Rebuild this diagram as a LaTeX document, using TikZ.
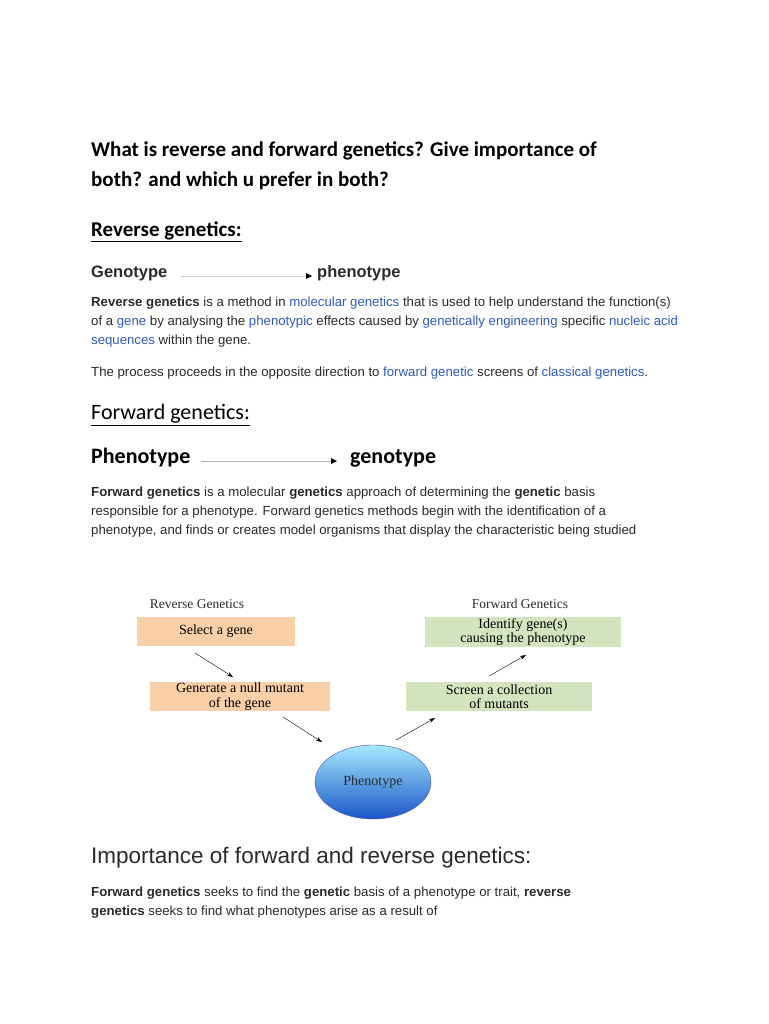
\documentclass[tikz,border=0pt]{standalone}
\usepackage{fontspec}
\setmainfont{Liberation Sans}
\newfontfamily\carl{Carlito}
\newfontfamily\serf{Liberation Serif}
\usetikzlibrary{arrows.meta,shadings,shapes.geometric}
\definecolor{lnk}{HTML}{2F5BB7}
\definecolor{txt}{HTML}{2A2A2A}
\definecolor{peach}{HTML}{F8CFA7}
\definecolor{sage}{HTML}{D3E4BF}
\newcommand{\lk}[1]{\textcolor{lnk}{#1}}
\begin{document}
\begin{tikzpicture}[x=1pt,y=-1pt,
  tx/.style={anchor=west,inner sep=0pt,text=txt},
  para/.style={tx,font=\fontsize{13.2}{19}\selectfont,align=left},
  pbox/.style={draw=none,inner sep=0pt,font=\serf\fontsize{14}{14.5}\selectfont,align=center},
  arr/.style={-{Stealth[length=6pt,width=4pt]},thin}]
\useasboundingbox (0,0) rectangle (768,1024);
\fill[white] (0,0) rectangle (768,1024);
\node[tx,text=black,font=\carl\bfseries\fontsize{21}{30}\selectfont,align=left,anchor=north west] (title) at (91,142) {What is reverse and forward genetics? Give importance of\\both? and which u prefer in both?};
\node[tx,text=black,font=\carl\bfseries\fontsize{21}{24}\selectfont] (rg) at (91,232) {\underline{Reverse genetics:}};
\node[tx,font=\bfseries\fontsize{16.5}{18}\selectfont] (g1) at (91,273) {Genotype};
\node[tx,font=\bfseries\fontsize{16.5}{18}\selectfont] (p1) at (317,273) {phenotype};
\draw[gray!40,line width=0.6pt] (181,276) -- (308,276);
\fill[black] (306,273) -- (312,276) -- (306,279) -- cycle;
\node[para,anchor=north west] (par1) at (91,297) {\textbf{Reverse genetics} is a method in \lk{molecular genetics} that is used to help understand the function(s)\\of a \lk{gene} by analysing the \lk{phenotypic} effects caused by \lk{genetically engineering} specific \lk{nucleic acid}\\\lk{sequences} within the gene.};
\node[para] (par2) at (91,373) {The process proceeds in the opposite direction to \lk{forward genetic} screens of \lk{classical genetics}.};
\node[tx,text=black,font=\carl\fontsize{22}{24}\selectfont] (fg) at (91,415) {\underline{Forward genetics:}};
\node[tx,text=black,font=\carl\bfseries\fontsize{22}{24}\selectfont] (p2) at (91,458) {Phenotype};
\node[tx,text=black,font=\carl\bfseries\fontsize{22}{24}\selectfont] (g2) at (350,458) {genotype};
\draw[gray!60,line width=0.6pt] (201,461) -- (333,461);
\fill[black] (331,458) -- (337,461) -- (331,464) -- cycle;
\node[para,anchor=north west] (par3) at (91,487) {\textbf{Forward genetics} is a molecular \textbf{genetics} approach of determining the \textbf{genetic} basis\\responsible for a phenotype. Forward genetics methods begin with the identification of a\\phenotype, and finds or creates model organisms that display the characteristic being studied};
% diagram
\node[font=\serf\fontsize{13.5}{14}\selectfont,text=txt] (rl) at (197,604) {Reverse Genetics};
\node[font=\serf\fontsize{13.5}{14}\selectfont,text=txt] (fl) at (520,604) {Forward Genetics};
\node[pbox,fill=peach,minimum width=158pt,minimum height=29pt] (b1) at (216,631.5) {Select a gene};
\node[pbox,fill=peach,minimum width=180pt,minimum height=29pt] (b2) at (240,696.5) {Generate a null mutant\\of the gene};
\node[pbox,fill=sage,minimum width=196pt,minimum height=30pt] (b3) at (523,632) {Identify gene(s)\\causing the phenotype};
\node[pbox,fill=sage,minimum width=186pt,minimum height=29pt] (b4) at (499,696.5) {Screen a collection\\of mutants};
\node[ellipse,draw=blue!40!gray,top color=blue!25!cyan!35,bottom color=blue!65!cyan!75!black!90,minimum width=116pt,minimum height=74pt,inner sep=0pt,font=\serf\fontsize{14}{14}\selectfont,text=txt] (ph) at (373,782) {Phenotype};
\coordinate (a1s) at (195,653); \coordinate (a1e) at (233,677);
\coordinate (a2s) at (283,717); \coordinate (a2e) at (322,742);
\coordinate (a3s) at (396,740); \coordinate (a3e) at (435,718);
\coordinate (a4s) at (489,676); \coordinate (a4e) at (526,655);
\draw[arr] (a1s) -- (a1e);
\draw[arr] (a2s) -- (a2e);
\draw[arr] (a3s) -- (a3e);
\draw[arr] (a4s) -- (a4e);
\node[tx,font=\fontsize{22.5}{24}\selectfont] (imp) at (91,858) {Importance of forward and reverse genetics:};
\node[para,anchor=north west] (par4) at (91,887) {\textbf{Forward genetics} seeks to find the \textbf{genetic} basis of a phenotype or trait, \textbf{reverse}\\\textbf{genetics} seeks to find what phenotypes arise as a result of};
\end{tikzpicture}
\end{document}
